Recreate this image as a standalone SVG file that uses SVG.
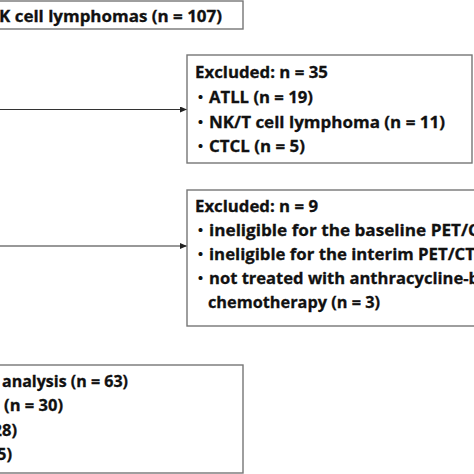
<svg xmlns="http://www.w3.org/2000/svg" width="474" height="474" viewBox="0 0 474 474">
<defs>
<style>
.box{fill:#ffffff;stroke:#767676;stroke-width:1.4}
.t{font-family:"Open Sans","Noto Sans CJK JP",sans-serif;font-weight:bold;font-size:16.5px;fill:#111;stroke:#111;stroke-width:0.3}
.b{font-family:"Noto Sans CJK JP",sans-serif;font-weight:bold;font-size:16px;fill:#111}
.ln{stroke:#333;stroke-width:1.2;fill:none}
</style>
<marker id="ah" markerWidth="8" markerHeight="6" refX="7" refY="3" orient="auto" markerUnits="userSpaceOnUse">
<path d="M0,0 L7,3 L0,6 Z" fill="#222"/>
</marker>
</defs>
<rect width="474" height="474" fill="#ffffff"/>
<g id="connectors">
<line class="ln" x1="-5" y1="109.5" x2="187" y2="109.5" marker-end="url(#ah)"/>
<line class="ln" x1="-5" y1="246" x2="187" y2="246" marker-end="url(#ah)"/>
</g>
<g id="node-total">
<rect class="box" x="-10" y="1" width="253" height="28"/>
<text class="t" x="-1" y="22" textLength="223" lengthAdjust="spacingAndGlyphs">K cell lymphomas (n = 107)</text>
</g>
<g id="node-excluded1">
<rect class="box" x="187" y="55" width="285" height="108"/>
<text class="t" x="195" y="78" textLength="133" lengthAdjust="spacingAndGlyphs">Excluded: n = 35</text>
<text><tspan class="b" x="192.5" y="103">・</tspan><tspan class="t" x="209" y="103" textLength="104" lengthAdjust="spacingAndGlyphs">ATLL (n = 19)</tspan></text>
<text><tspan class="b" x="192.5" y="128">・</tspan><tspan class="t" x="209" y="128" textLength="236" lengthAdjust="spacingAndGlyphs">NK/T cell lymphoma (n = 11)</tspan></text>
<text><tspan class="b" x="192.5" y="152">・</tspan><tspan class="t" x="209" y="152" textLength="96" lengthAdjust="spacingAndGlyphs">CTCL (n = 5)</tspan></text>
</g>
<g id="node-excluded2">
<rect class="box" x="187" y="190" width="300" height="136"/>
<text class="t" x="195" y="212" textLength="123" lengthAdjust="spacingAndGlyphs">Excluded: n = 9</text>
<text><tspan class="b" x="192.5" y="236">・</tspan><tspan class="t" x="209" y="236" textLength="270" lengthAdjust="spacingAndGlyphs">ineligible for the baseline PET/C</tspan></text>
<text><tspan class="b" x="192.5" y="260">・</tspan><tspan class="t" x="209" y="260" textLength="266" lengthAdjust="spacingAndGlyphs">ineligible for the interim PET/CT</tspan></text>
<text><tspan class="b" x="192.5" y="284">・</tspan><tspan class="t" x="209" y="284" textLength="270" lengthAdjust="spacingAndGlyphs">not treated with anthracycline-b</tspan></text>
<text class="t" x="208" y="308" textLength="172" lengthAdjust="spacingAndGlyphs">chemotherapy (n = 3)</text>
</g>
<g id="node-analysis">
<rect class="box" x="-10" y="365" width="253" height="108"/>
<text class="t" x="2" y="387" textLength="126" lengthAdjust="spacingAndGlyphs">analysis (n = 63)</text>
<text class="t" x="63" y="411" text-anchor="end">(n = 30)</text>
<text class="t" x="17" y="436" text-anchor="end">28)</text>
<text class="t" x="12" y="460" text-anchor="end">5)</text>
</g>
</svg>
